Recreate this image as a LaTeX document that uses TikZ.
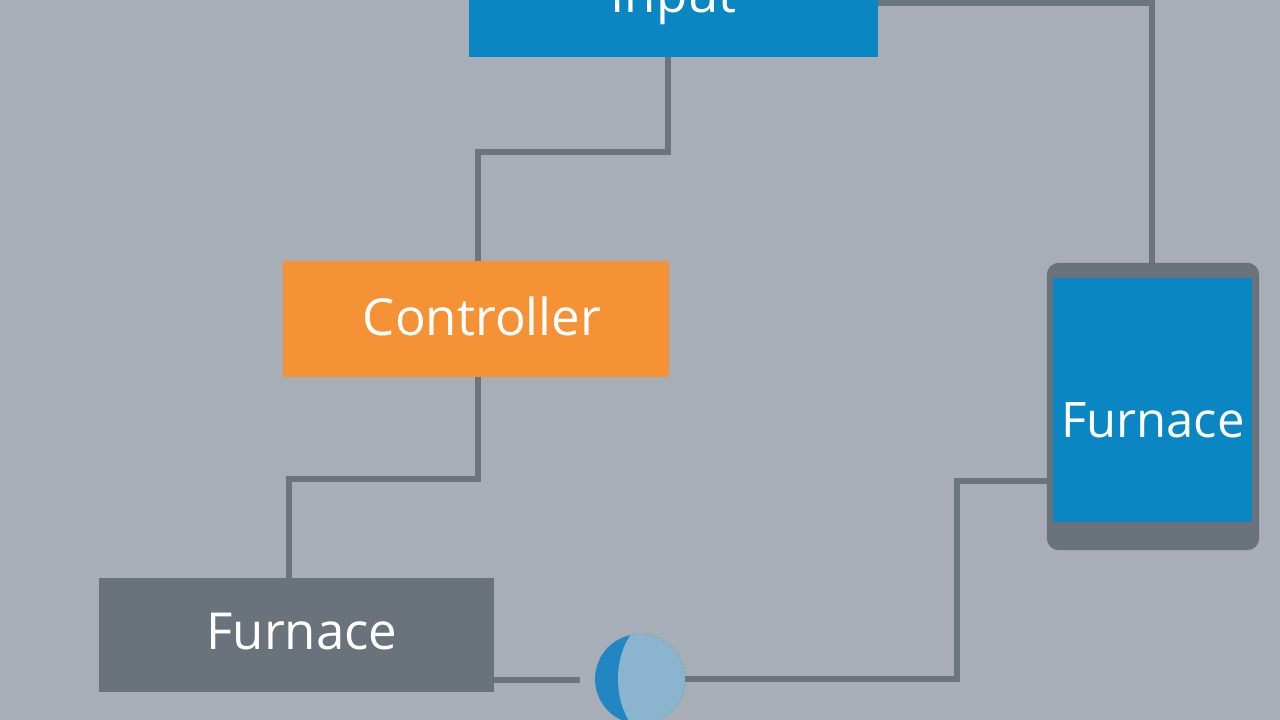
\documentclass[tikz,border=0pt]{standalone}
\usepackage{fontspec}
\setmainfont{Open Sans}
\definecolor{bg}{HTML}{A8AEB7}
\definecolor{wirec}{HTML}{6C747E}
\definecolor{boxblue}{HTML}{0A87C2}
\definecolor{boxorange}{HTML}{F59235}
\definecolor{boxgray}{HTML}{6A727C}
\definecolor{valvedark}{HTML}{2186C2}
\definecolor{valvelight}{HTML}{8BB4CE}
\tikzset{
  blk/.style={rectangle, inner sep=0pt},
  lbl/.style={inner sep=0pt, text=white, font=\fontsize{51}{60}\selectfont},
  wire/.style={draw=wirec, line width=6pt},
}
\begin{document}
\begin{tikzpicture}[x=1pt,y=-1pt]
\useasboundingbox (0,0) rectangle (1280,720);
\fill[bg] (0,0) rectangle (1280,720);
\clip (0,0) rectangle (1280,720);
\coordinate (a1) at (668,152);
\coordinate (b1) at (289,479);
\coordinate (c1) at (580,680);
\coordinate (d1) at (957,481);
\coordinate (e1) at (1152,3);
% node frames
\path (673.5,-1.5) node[blk, minimum width=409pt, minimum height=117pt] (in) {};
\path (476,319) node[blk, minimum width=386pt, minimum height=116pt] (ctrl) {};
\path (296.5,635) node[blk, minimum width=395pt, minimum height=114pt] (fb) {};
\path (1153,406.5) node[blk, minimum width=212pt, minimum height=287pt] (fr) {};
\path (640,679) node[circle, minimum size=90pt, inner sep=0pt] (v) {};
% connectors
\draw[wire] (in.south -| a1) -- (a1) -| (ctrl.north -| 478,0);
\draw[wire] (ctrl.south -| 478,0) |- (b1) -- (fb.north -| b1);
\draw[wire] (fb.east |- c1) -- (c1);
\draw[wire] (v.east) -| (d1) -- (fr.west |- d1);
\draw[wire] (in.east |- e1) -- (e1) -- (fr.north -| e1);
% boxes
\fill[boxblue] (in.north west) rectangle (in.south east);
\fill[boxorange] (ctrl.north west) rectangle (ctrl.south east);
\fill[boxgray] (fb.north west) rectangle (fb.south east);
\fill[boxgray, rounded corners=12pt] (fr.north west) rectangle (fr.south east);
\node[blk, fill=boxblue, minimum width=199pt, minimum height=244pt] (frin) at (1152.5,400) {};
\node[circle, minimum size=90pt, inner sep=0pt, fill=valvedark,
  path picture={\fill[valvelight] ([xshift=20pt]path picture bounding box.center) ellipse (42pt and 62pt);}] (vb) at (v) {};
% labels
\node[lbl] (tin) at (673.5,0) {Input};
\node[lbl] (tctrl) at (482,316) {Controller};
\node[lbl] (tfb) at (302,632) {Furnace};
\node[lbl, font=\fontsize{49}{58}\selectfont] (tfr) at (1153,420) {Furnace};
\end{tikzpicture}
\end{document}
